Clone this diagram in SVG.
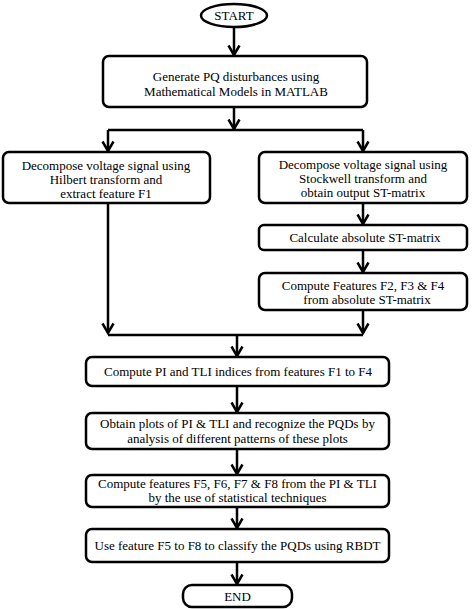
<svg xmlns="http://www.w3.org/2000/svg" width="474" height="609" viewBox="0 0 474 609">
<style>
.box{fill:#fff;stroke:#000;stroke-width:2.5}
.t{font-family:"Liberation Serif","Times New Roman",serif;font-size:13px;fill:#000;text-anchor:middle}
.c{fill:none;stroke:#000;stroke-width:2.5}
</style>
<defs>
<marker id="arr" viewBox="0 0 14 14" refX="12" refY="7" markerWidth="14" markerHeight="14" markerUnits="userSpaceOnUse" orient="auto">
<path d="M2.5,1.5 L12,7 L2.5,12.5" fill="none" stroke="#000" stroke-width="2.5"/>
</marker>
</defs>
<rect width="474" height="609" fill="#fff"/>
<g id="connectors">
<path class="c" d="M234,27 V55" marker-end="url(#arr)"/>
<path class="c" d="M234,107 V129" marker-end="url(#arr)"/>
<path class="c" d="M108,130 H363"/>
<path class="c" d="M108,130 V151" marker-end="url(#arr)"/>
<path class="c" d="M363,130 V151" marker-end="url(#arr)"/>
<path class="c" d="M363,203 V224" marker-end="url(#arr)"/>
<path class="c" d="M363,250 V272" marker-end="url(#arr)"/>
<path class="c" d="M363,310 V333" marker-end="url(#arr)"/>
<path class="c" d="M108,203 V333" marker-end="url(#arr)"/>
<path class="c" d="M108,335 H363"/>
<path class="c" d="M237,335 V356" marker-end="url(#arr)"/>
<path class="c" d="M237,386 V412" marker-end="url(#arr)"/>
<path class="c" d="M237,449 V474" marker-end="url(#arr)"/>
<path class="c" d="M237,507 V528" marker-end="url(#arr)"/>
<path class="c" d="M237,562 V584" marker-end="url(#arr)"/>
</g>
<g id="start">
<ellipse class="box" cx="234" cy="15.5" rx="33" ry="11.5"/>
<text class="t" x="234" y="20">START</text>
</g>
<g id="generate">
<rect class="box" x="103" y="56" width="264" height="51" rx="6"/>
<text class="t" x="236" y="81">Generate PQ disturbances using</text>
<text class="t" x="236" y="96">Mathematical Models in MATLAB</text>
</g>
<g id="hilbert">
<rect class="box" x="3" y="152" width="207" height="51" rx="6"/>
<text class="t" x="106" y="169.5">Decompose voltage signal using</text>
<text class="t" x="106" y="183.5">Hilbert transform and</text>
<text class="t" x="106" y="197.5">extract feature F1</text>
</g>
<g id="stockwell">
<rect class="box" x="259" y="152" width="208" height="51" rx="6"/>
<text class="t" x="363" y="168.5">Decompose voltage signal using</text>
<text class="t" x="363" y="182.5">Stockwell transform and</text>
<text class="t" x="363" y="196.5">obtain output ST-matrix</text>
</g>
<g id="calc">
<rect class="box" x="259" y="225" width="208" height="25" rx="5"/>
<text class="t" x="365" y="241.5">Calculate absolute ST-matrix</text>
</g>
<g id="f234">
<rect class="box" x="259" y="273" width="208" height="37" rx="6"/>
<text class="t" x="363" y="290">Compute Features F2, F3 &amp; F4</text>
<text class="t" x="367" y="304">from absolute ST-matrix</text>
</g>
<g id="pitli">
<rect class="box" x="86" y="357" width="303" height="29" rx="6"/>
<text class="t" x="238" y="375.5">Compute PI and TLI indices from features F1 to F4</text>
</g>
<g id="plots">
<rect class="box" x="86" y="413" width="303" height="36" rx="6"/>
<text class="t" x="237.5" y="427.5">Obtain plots of PI &amp; TLI and recognize the PQDs by</text>
<text class="t" x="237.5" y="442.5">analysis of different patterns of these plots</text>
</g>
<g id="f5678">
<rect class="box" x="86" y="475" width="303" height="32" rx="6"/>
<text class="t" x="237.5" y="487.5">Compute features F5, F6, F7 &amp; F8 from the PI &amp; TLI</text>
<text class="t" x="237.5" y="501.5">by the use of statistical techniques</text>
</g>
<g id="rbdt">
<rect class="box" x="86" y="529" width="303" height="33" rx="6"/>
<text class="t" x="237.5" y="549.5">Use feature F5 to F8 to classify the PQDs using RBDT</text>
</g>
<g id="end">
<rect class="box" x="183" y="585" width="109" height="22" rx="9"/>
<text class="t" x="237.5" y="600.5">END</text>
</g>
</svg>
